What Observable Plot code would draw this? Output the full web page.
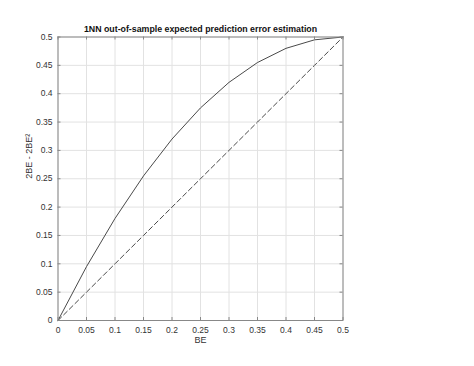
<!DOCTYPE html>
<html><head><meta charset="utf-8">
<script src="https://cdn.jsdelivr.net/npm/d3@7"></script>
<script src="https://cdn.jsdelivr.net/npm/@observablehq/plot@0.6"></script>
<style>body{margin:0;background:#fff}svg{font-family:"Liberation Sans",Arial,sans-serif}</style>
</head><body><div id="chart"></div>
<script>
const be = [0, 0.05, 0.1, 0.15, 0.2, 0.25, 0.3, 0.35, 0.4, 0.45, 0.5];
const errorCurve = [0, 0.095, 0.18, 0.255, 0.32, 0.375, 0.42, 0.455, 0.48, 0.495, 0.5];
const errorLine = [0, 0.05, 0.1, 0.15, 0.2, 0.25, 0.3, 0.35, 0.4, 0.45, 0.5];
const xTicks = [0, 0.05, 0.1, 0.15, 0.2, 0.25, 0.3, 0.35, 0.4, 0.45, 0.5];
const yTicks = [0, 0.05, 0.1, 0.15, 0.2, 0.25, 0.3, 0.35, 0.4, 0.45, 0.5];
const xTickLabels = ["0", "0.05", "0.1", "0.15", "0.2", "0.25", "0.3", "0.35", "0.4", "0.45", "0.5"];
const yTickLabels = ["0", "0.05", "0.1", "0.15", "0.2", "0.25", "0.3", "0.35", "0.4", "0.45", "0.5"];
const title = "1NN out-of-sample expected prediction error estimation";

const curve = be.map((x, i) => ({x, y: errorCurve[i]}));
const line = be.map((x, i) => ({x, y: errorLine[i]}));

const W = 474, H = 366, mL = 57.5, mR = 131.5, mT = 36.5, mB = 46;
const pw = W - mL - mR, ph = H - mT - mB;
const tk = 3;

const plot = Plot.plot({
  width: W, height: H,
  marginLeft: mL, marginRight: mR, marginTop: mT, marginBottom: mB,
  style: {fontSize: "8.5px", fontFamily: "Liberation Sans, Arial, sans-serif", color: "#333"},
  x: {domain: [0, 0.5], axis: null},
  y: {domain: [0, 0.5], axis: null},
  marks: [
    Plot.gridX(xTicks, {stroke: "#e2e2e2", strokeOpacity: 1}),
    Plot.gridY(yTicks, {stroke: "#e2e2e2", strokeOpacity: 1}),
    Plot.line(line, {x: "x", y: "y", stroke: "#4a4a4a", strokeWidth: 1, strokeDasharray: "5,3"}),
    Plot.line(curve, {x: "x", y: "y", stroke: "#4a4a4a", strokeWidth: 1}),
    Plot.frame({stroke: "#888"}),
    Plot.tickX(xTicks, {x: d => d, insetTop: ph - tk, stroke: "#888"}),
    Plot.tickX(xTicks, {x: d => d, insetBottom: ph - tk, stroke: "#888"}),
    Plot.tickY(yTicks, {y: d => d, insetRight: pw - tk, stroke: "#888"}),
    Plot.tickY(yTicks, {y: d => d, insetLeft: pw - tk, stroke: "#888"}),
    Plot.text(xTicks, {x: d => d, frameAnchor: "bottom", dy: 6.5, text: (d, i) => xTickLabels[i], fill: "#333", lineAnchor: "top"}),
    Plot.text(yTicks, {y: d => d, frameAnchor: "left", dx: -5.5, text: (d, i) => yTickLabels[i], fill: "#333", textAnchor: "end"}),
    Plot.text(["BE"], {frameAnchor: "bottom", dy: 16, text: d => d, fill: "#333", lineAnchor: "top", fontSize: 9}),
    Plot.text(["2BE - 2BE²"], {frameAnchor: "left", dx: -29, rotate: -90, text: d => d, fill: "#333", fontSize: 9}),
    Plot.text([title], {frameAnchor: "top", dy: -5, text: d => d, fill: "#111", fontWeight: "bold", fontSize: 8.8, lineAnchor: "bottom"})
  ]
});
document.getElementById("chart").appendChild(plot);
</script></body></html>
